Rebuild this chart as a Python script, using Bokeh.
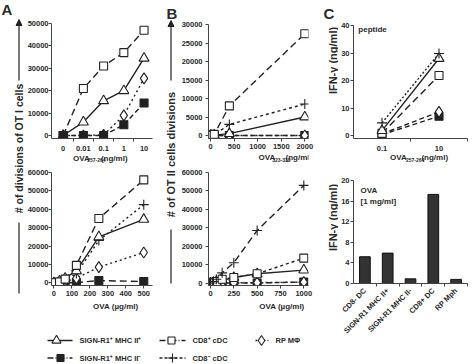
import math
from bokeh.plotting import figure
from bokeh.models import Range1d, FixedTicker, Label, Arrow, NormalHead
from bokeh.layouts import row, column
from bokeh.embed import file_html
from bokeh.resources import INLINE

# ---------------- data ----------------
# Panel A top: OVA 257-264 peptide (ng/ml), category axis
a1_doses = ["0", "0.01", "0.1", "1", "10"]
a1_sign_mhc2_pos = [0, 6000, 15500, 20000, 34500]
a1_cd8_pos = [0, 21000, 31000, 37000, 47000]
a1_rp_mph = [0, 0, 300, 9000, 25500]
a1_sign_mhc2_neg = [0, 0, 0, 4800, 14500]
a1_yticks = [0, 10000, 20000, 30000, 40000, 50000]

# Panel A bottom: OVA protein (ug/ml)
a2_ova = [0, 31.25, 62.5, 125, 250, 500]
a2_sign_mhc2_pos = [0, 1000, 2500, 6500, 25000, 34500]
a2_cd8_pos = [0, 500, 2000, 9500, 35000, 56000]
a2_cd8_neg = [0, 500, 1500, 5000, 23000, 42500]
a2_rp_mph = [0, 200, 800, 2500, 8500, 16500]
a2_sign_mhc2_neg = [0, 0, 0, 100, 1200, 700]
a2_xticks = [0, 100, 200, 300, 400, 500]
a2_yticks = [0, 10000, 20000, 30000, 40000, 50000, 60000]

# Panel B top: OVA 323-339 peptide (ng/ml)
b1_ova = [0, 16, 80, 400, 2000]
b1_cd8_pos = [0, 0, 300, 8000, 27500]
b1_cd8_neg = [0, 0, 200, 3000, 8500]
b1_sign_mhc2_pos = [0, 0, 100, 500, 5000]
b1_rp_mph = [0, 0, 0, 0, 0]
b1_sign_mhc2_neg = [0, 0, 0, 0, 0]
b1_xticks = [0, 500, 1000, 1500, 2000]
b1_yticks = [0, 5000, 10000, 15000, 20000, 25000, 30000]

# Panel B bottom: OVA protein (ug/ml)
b2_ova = [0, 31.25, 62.5, 125, 250, 500, 1000]
b2_cd8_neg = [0, 800, 2000, 5500, 11000, 28500, 53000]
b2_cd8_pos = [0, 300, 800, 2000, 3000, 5000, 13500]
b2_sign_mhc2_pos = [0, 300, 700, 1500, 3000, 5000, 7000]
b2_rp_mph = [0, 0, 0, 0, 100, 200, 500]
b2_sign_mhc2_neg = [0, 0, 0, 0, 0, 0, 500]
b2_xticks = [0, 250, 500, 750, 1000]
b2_yticks = [0, 10000, 20000, 30000, 40000, 50000, 60000]

# Panel C top: IFN-gamma (ng/ml), peptide
c1_doses = ["0.1", "10"]
c1_cd8_neg = [4.6, 29.8]
c1_sign_mhc2_pos = [1.8, 28.0]
c1_cd8_pos = [0.8, 21.8]
c1_rp_mph = [0.6, 8.6]
c1_sign_mhc2_neg = [0.3, 7.0]
c1_yticks = [0, 10, 20, 30, 40]

# Panel C bottom: IFN-gamma (ng/ml), OVA 1 mg/ml
c2_cells = ["CD8- DC", "SIGN-R1 MHC II+", "SIGN-R1 MHC II-", "CD8+ DC", "RP Mph"]
c2_ifng = [5.2, 5.9, 0.9, 17.3, 0.8]
c2_yticks = [0, 4, 8, 12, 16, 20]

legend_names = {
    "tri": "SIGN-R1\u207a MHC II\u207a",
    "sq": "CD8\u207a cDC",
    "dia": "RP M\u03a6",
    "fsq": "SIGN-R1\u207a MHC II\u207b",
    "plus": "CD8\u207b cDC",
}

# ---------------- styles ----------------
INK = "#222222"
TXT = "#2a2a2a"
FONT = "Liberation Sans"
STY = {
    "tri": dict(marker="triangle", size=10, fill="white"),
    "sq": dict(marker="square", size=8, fill="white"),
    "dia": dict(marker="diamond", size=11, fill="white"),
    "fsq": dict(marker="square", size=8, fill=INK),
    "plus": dict(marker="cross", size=10, fill=None),
}


def lin(v0, p0, v1, p1):
    k = (v1 - v0) / (p1 - p0)
    return lambda p: v0 + (p - p0) * k


class Panel:
    def __init__(self, ox, oy, w, h, L, R, T, B, xa, ya, axes=True):
        self.fx = lin(*xa)
        self.fy = lin(*ya)
        xr = (self.fx(ox + L), self.fx(ox + w - R))
        yr = (self.fy(oy + h - B), self.fy(oy + T))
        kw = {} if axes else dict(x_axis_location=None, y_axis_location=None)
        p = figure(width=w, height=h, x_range=Range1d(*xr), y_range=Range1d(*yr),
                   output_backend="svg", toolbar_location=None,
                   min_border_left=L, min_border_right=R,
                   min_border_top=T, min_border_bottom=B, **kw)
        p.outline_line_color = None
        p.background_fill_color = "white"
        p.border_fill_color = "white"
        for g in p.grid:
            g.visible = False
        self.fig = p

    def label(self, px, py, text, size="8px", align="left", baseline="middle",
              angle=0.0, bold=True):
        self.fig.add_layout(Label(
            x=self.fx(px), y=self.fy(py), text=text, text_font=FONT,
            text_font_size=size, text_font_style="bold" if bold else "normal",
            text_color=TXT, text_align=align, text_baseline=baseline, angle=angle))


def strip(ox, oy, w, h):
    # blank canvas whose data coordinates equal page pixels
    return Panel(ox, oy, w, h, 0, 0, 0, 0, (ox, ox, ox + w, ox + w),
                 (oy, oy, oy + h, oy + h), axes=False)


def style_axes(P, xt, yt, xlabels=None, categorical=False, ystand=0, xstand=2):
    p = P.fig
    minor = [t + 0.5 for t in xt[:-1]] + [xt[-1] + 0.5] if categorical else []
    p.xaxis.ticker = FixedTicker(ticks=xt, minor_ticks=minor)
    p.yaxis.ticker = FixedTicker(ticks=yt)
    if xlabels is not None:
        p.xaxis.major_label_overrides = {t: l for t, l in zip(xt, xlabels)}
    for ax in p.axis:
        ax.axis_line_color = "#444444"
        ax.axis_line_width = 1
        ax.major_tick_line_color = "#444444"
        ax.minor_tick_line_color = "#444444"
        ax.major_tick_in = 0
        ax.major_tick_out = 3
        ax.minor_tick_in = 0
        ax.minor_tick_out = 0
        ax.major_label_text_font = FONT
        ax.major_label_text_font_style = "bold"
        ax.major_label_text_font_size = "7.5px"
        ax.major_label_text_color = TXT
    p.yaxis.major_label_standoff = ystand
    if categorical:
        p.xaxis.major_tick_out = 0
        p.xaxis.minor_tick_out = 3
    p.xaxis.major_label_standoff = xstand


def draw_series(P, series):
    p = P.fig
    for key, xs, ys, dash in series:
        p.line(xs, ys, line_color=INK, line_width=1.4, line_dash=dash)
    for key, xs, ys, dash in series:
        st = STY[key]
        p.scatter(xs, ys, marker=st["marker"], size=st["size"],
                  fill_color=st["fill"], line_color=INK, line_width=1.1)


def sub_title(P, x0, y, name, sub, unit):
    P.label(x0, y, name)
    P.label(x0 + 19, y + 2.2, sub, size="5px")
    P.label(x0 + 37.5, y, unit)


# ---------------- panel A ----------------
sa = strip(0, 0, 24, 312)
sa.label(1, 8.5, "A", size="15px")
sa.fig.add_layout(Arrow(end=NormalHead(size=6, fill_color=INK, line_color=INK),
                        x_start=18.5, y_start=80, x_end=18.5, y_end=19,
                        line_color=INK, line_width=1.2))
sa.fig.segment(x0=[18.5], y0=[222], x1=[18.5], y1=[293], line_color=INK, line_width=1.2)
sa.label(18.5, 148, "# of divisions of OT I cells", size="10.5px",
         align="center", angle=math.pi / 2)

a1_x = list(range(len(a1_doses)))
pa1 = Panel(24, 0, 136, 153, 24, 8, 23, 15, (0, 60, 4, 143.3), (0, 135, 50000, 23))
style_axes(pa1, a1_x, a1_yticks, xlabels=a1_doses, categorical=True, xstand=4)
draw_series(pa1, [
    ("tri", a1_x, a1_sign_mhc2_pos, "solid"),
    ("sq", a1_x, a1_cd8_pos, "7 4"),
    ("dia", a1_x, a1_rp_mph, "2 3"),
    ("fsq", a1_x, a1_sign_mhc2_neg, "5 3"),
])
ta1 = strip(24, 153, 136, 12)
sub_title(ta1, 53, 157.5, "OVA", "257-264", "(ng/ml)")

pa2 = Panel(24, 165, 136, 135, 24, 8, 7, 15, (0, 50.5, 500, 143), (0, 282.3, 60000, 172))
style_axes(pa2, a2_xticks, a2_yticks)
draw_series(pa2, [
    ("fsq", a2_ova, a2_sign_mhc2_neg, "7 4"),
    ("dia", a2_ova, a2_rp_mph, "2 3"),
    ("plus", a2_ova, a2_cd8_neg, "2 3"),
    ("tri", a2_ova, a2_sign_mhc2_pos, "solid"),
    ("sq", a2_ova, a2_cd8_pos, "7 4"),
])
ta2 = strip(24, 300, 136, 12)
ta2.label(80, 305.5, "OVA (\u00b5g/ml)")

# ---------------- panel B ----------------
sb = strip(160, 0, 17, 312)
sb.label(166, 12.5, "B", size="15px")
sb.fig.add_layout(Arrow(end=NormalHead(size=6, fill_color=INK, line_color=INK),
                        x_start=170.5, y_start=80, x_end=170.5, y_end=20,
                        line_color=INK, line_width=1.2))
sb.fig.segment(x0=[170.5], y0=[229], x1=[170.5], y1=[283], line_color=INK, line_width=1.2)
sb.label(170.5, 154, "# of OT II cells divisions", size="11px",
         align="center", angle=math.pi / 2)

pb1 = Panel(177, 0, 139, 153, 31, 8, 24, 15, (0, 210, 2000, 304.3), (0, 135, 30000, 24))
style_axes(pb1, b1_xticks, b1_yticks, ystand=3)
draw_series(pb1, [
    ("fsq", b1_ova, b1_sign_mhc2_neg, "5 3"),
    ("dia", b1_ova, b1_rp_mph, "2 3"),
    ("tri", b1_ova, b1_sign_mhc2_pos, "solid"),
    ("plus", b1_ova, b1_cd8_neg, "3 3"),
    ("sq", b1_ova, b1_cd8_pos, "7 4"),
])
tb1 = strip(177, 153, 139, 12)
sub_title(tb1, 246.5, 157, "OVA", "323-339", "(ng/ml)")

pb2 = Panel(177, 165, 139, 135, 31, 8, 7, 15, (0, 210, 1000, 303.3), (0, 282.5, 60000, 172))
style_axes(pb2, b2_xticks, b2_yticks, ystand=3)
draw_series(pb2, [
    ("fsq", b2_ova, b2_sign_mhc2_neg, "5 3"),
    ("dia", b2_ova, b2_rp_mph, "2 3"),
    ("tri", b2_ova, b2_sign_mhc2_pos, "solid"),
    ("sq", b2_ova, b2_cd8_pos, "3 3"),
    ("plus", b2_ova, b2_cd8_neg, "7 4"),
])
tb2 = strip(177, 300, 139, 12)
tb2.label(247.5, 305.5, "OVA (\u00b5g/ml)")

# ---------------- panel C ----------------
sc = strip(316, 0, 22, 364)
sc.label(323, 13, "C", size="15px")
sc.label(332, 60, "IFN-\u03b3 (ng/ml)", size="11px", align="center", angle=math.pi / 2)
sc.label(332, 217, "IFN-\u03b3 (ng/ml)", size="11px", align="center", angle=math.pi / 2)

c1_x = list(range(len(c1_doses)))
pc1 = Panel(338, 0, 136, 153, 15, 2, 25, 14, (-0.5, 353, 1.5, 472), (0, 136, 40, 25))
style_axes(pc1, c1_x, c1_yticks, xlabels=c1_doses, categorical=True, ystand=1, xstand=4)
draw_series(pc1, [
    ("fsq", c1_x, c1_sign_mhc2_neg, "5 3"),
    ("dia", c1_x, c1_rp_mph, "5 3"),
    ("sq", c1_x, c1_cd8_pos, "7 4"),
    ("tri", c1_x, c1_sign_mhc2_pos, "solid"),
    ("plus", c1_x, c1_cd8_neg, "2 2"),
])
pc1.label(358, 29.5, "peptide", size="8px")
tc1 = strip(338, 153, 136, 12)
sub_title(tc1, 381.5, 157, "OVA", "257-264", "(ng/ml)")

c2_x = list(range(len(c2_cells)))
pc2 = Panel(338, 165, 136, 199, 15, 7, 15, 81, (-0.5, 353, 4.5, 467), (0, 283, 20, 180))
style_axes(pc2, c2_x, c2_yticks, xlabels=c2_cells, categorical=True, ystand=1, xstand=3)
pc2.fig.xaxis.major_label_orientation = math.pi / 4
pc2.fig.vbar(x=c2_x, top=c2_ifng, width=0.47, bottom=0,
             fill_color="#333333", line_color="#111111", line_width=1)
pc2.label(360, 190, "OVA", size="8px")
pc2.label(360, 200.5, "[1 mg/ml]", size="8px")

# ---------------- legend ----------------
lg = strip(0, 312, 316, 52)
legend_rows = [
    # key, swatch x0, x1, marker x, row y, dash, text x
    ("tri", 47, 72, 56, 340, "solid", 79),
    ("sq", 159, 185, 171, 340, "6 2 1 2", 192),
    ("dia", 255, 268, 261, 340, "2 2", 275),
    ("fsq", 47, 72, 60, 357.5, "6 2 1 2", 79),
    ("plus", 159, 185, 172, 357.5, "3 2", 192),
]
for key, x0, x1, mx, y, dash, tx in legend_rows:
    st = STY[key]
    lg.fig.line([x0, x1], [y, y], line_color=INK, line_width=1.4, line_dash=dash)
    lg.fig.scatter([mx], [y], marker=st["marker"], size=st["size"] - 1,
                   fill_color=st["fill"], line_color=INK, line_width=1.1)
    lg.label(tx, y, legend_names[key], size="7.5px")

# ---------------- layout ----------------
col_a = row(sa.fig, column(pa1.fig, ta1.fig, pa2.fig, ta2.fig))
col_b = row(sb.fig, column(pb1.fig, tb1.fig, pb2.fig, tb2.fig))
left = column(row(col_a, col_b), lg.fig)
col_c = row(sc.fig, column(pc1.fig, tc1.fig, pc2.fig))
root = row(left, col_c)

open("out.html", "w").write(file_html(root, INLINE))
